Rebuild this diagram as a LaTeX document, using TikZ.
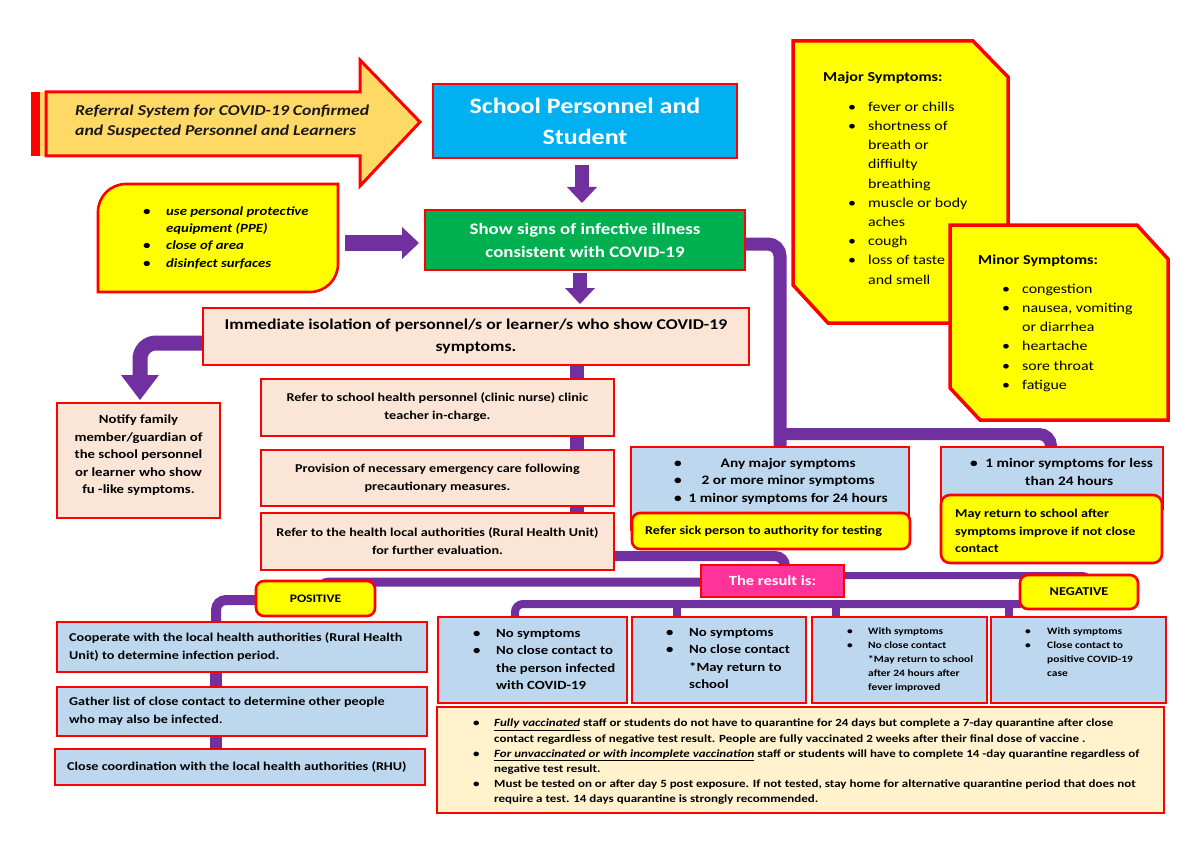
\documentclass[tikz,border=0pt]{standalone}
\usepackage{fontspec}
\setmainfont{Carlito}[FakeStretch=1.18]
\usetikzlibrary{arrows.meta,calc,backgrounds}
\definecolor{pur}{HTML}{7030A0}
\definecolor{peach}{HTML}{FBE5D6}
\definecolor{lblue}{HTML}{BDD7EE}
\definecolor{ylw}{HTML}{FFFF00}
\definecolor{cream}{HTML}{FFF2CC}
\definecolor{orng}{HTML}{FFD966}
\definecolor{cyanb}{HTML}{00B0F0}
\definecolor{grn}{HTML}{00B050}
\definecolor{pinkc}{HTML}{FF3399}
\newlength\bw
\newcommand\bl[1]{\strut\makebox[\bw][l]{\textbullet}#1}
\newcommand\cl[1]{\strut\hspace*{\bw}#1}
\newcommand\bc[2]{\strut\makebox[\bw][l]{\textbullet}\makebox[#1][c]{#2}}
\newcommand\cc[2]{\strut\hspace*{\bw}\makebox[#1][c]{#2}}
\newcommand\fs[2]{\fontsize{#1}{#2}\selectfont}
\tikzset{
  box/.style={draw=red, line width=2.6pt, inner sep=0pt, outer sep=0pt},
  peachbox/.style={box, fill=peach},
  bluebox/.style={box, fill=lblue},
  ylwbox/.style={box, fill=ylw, rounded corners=8pt},
  conn/.style={draw=pur, line cap=butt, rounded corners=10pt},
  fat/.style={draw=pur, line width=14pt, -{Triangle[width=30pt,length=16pt,line width=0pt]}},
  lst/.style={anchor=north west, inner sep=0pt, align=left},
  lft/.style={anchor=west, inner sep=0pt, align=left},
  symb/.style={draw=red, line width=3.5pt, fill=ylw, line join=miter},
}
\begin{document}
\begin{tikzpicture}[x=1pt,y=-1pt]
\useasboundingbox (0,0) rectangle (1200,848);

% Referral arrow
\fill[red] (31,92) rectangle (40,156);
\fill[orng] (40,92) rectangle (46,156);
\draw[red, line width=3pt, fill=orng, line join=miter] (46,92) -- (360,92) -- (360,60) -- (420,122) -- (360,186) -- (360,156) -- (46,156) -- cycle;
\node[lst, font={\fs{15}{20}\bfseries\itshape}, text=black!90] (reft) at (75,101)
  {\strut Referral System for COVID-19 Confirmed\\\strut and Suspected Personnel and Learners};

% top boxes
\node[box, fill=cyanb, minimum width=304pt, minimum height=74pt, text=white, align=center, font=\fs{22}{31}\bfseries] (school) at (585,121) {School Personnel and\\Student};
\node[box, fill=grn, minimum width=320pt, minimum height=60pt, text=white, align=center, font=\fs{16}{23}\bfseries] (green) at (585,240) {Show signs of infective illness\\consistent with COVID-19};

% PPE box
\draw[red, line width=2.6pt, fill=ylw] (98,292) -- (98,212) .. controls (98,196.5) and (110.5,184) .. (126,184) -- (338,184) -- (338,264) .. controls (338,279.5) and (325.5,292) .. (310,292) -- cycle;
\node[lst, font={\fs{12.5}{17.3}\bfseries\itshape\setlength\bw{23pt}}] (ppet) at (143,203)
  {\bl{use personal protective}\\\cl{equipment (PPE)}\\\bl{close of area}\\\bl{disinfect surfaces}};
\coordinate (ppeE) at (345,243);

% symptom boxes
\draw[symb] (793,41) -- (973,41) -- (1008,77) -- (1008,323) -- (828,323) -- (793,285) -- cycle;
\node[anchor=base west, inner sep=0pt, font=\fs{13.7}{17}\bfseries] (majh) at (823,82) {Major Symptoms:};
\node[lst, font={\fs{13.5}{19.2}\setlength\bw{20pt}}] (majl) at (848,97.6)
  {\bl{fever or chills}\\\bl{shortness of}\\\cl{breath or}\\\cl{diffiulty}\\\cl{breathing}\\\bl{muscle or body}\\\cl{aches}\\\bl{cough}\\\bl{loss of taste}\\\cl{and smell}};
\draw[symb] (950,225) -- (1137,225) -- (1168,259) -- (1168,420) -- (980,420) -- (950,388) -- cycle;
\node[anchor=base west, inner sep=0pt, font=\fs{13.7}{17}\bfseries] (minh) at (978,264) {Minor Symptoms:};
\node[lst, font={\fs{13.5}{19.2}\setlength\bw{20pt}}] (minl) at (1002,279.6)
  {\bl{congestion}\\\bl{nausea, vomiting}\\\cl{or diarrhea}\\\bl{heartache}\\\bl{sore throat}\\\bl{fatigue}};

% isolation and follow-ups
\node[peachbox, minimum width=546pt, minimum height=57pt, align=center, font=\fs{15}{22}\bfseries] (iso) at (476,336.5) {Immediate isolation of personnel/s or learner/s who show COVID-19\\symptoms.};
\node[peachbox, minimum width=163pt, minimum height=115pt] (notify) at (138.5,460.5) {};
\node[inner sep=0pt, align=center, font=\fs{12.5}{17.5}\bfseries] (notifyt) at ($(notify.center)+(0,-5)$) {Notify family\\member/guardian of\\the school personnel\\or learner who show\\fu -like symptoms.};
\node[peachbox, minimum width=353pt, minimum height=57pt, align=center, font=\fs{12}{18}\bfseries] (R1) at (437.5,407.5) {Refer to school health personnel (clinic nurse) clinic\\teacher in-charge.};
\node[peachbox, minimum width=353pt, minimum height=56pt, align=center, font=\fs{12}{18}\bfseries] (R2) at (437.5,478) {Provision of necessary emergency care following\\precautionary measures.};
\node[peachbox, minimum width=353pt, minimum height=57pt, align=center, font=\fs{12}{18}\bfseries] (R3) at (437.5,541.5) {Refer to the health local authorities (Rural Health Unit)\\for further evaluation.};

% symptom outcome boxes
\node[bluebox, minimum width=278pt, minimum height=83pt] (S1) at (770,488.5) {};
\node[lst, font={\fs{13}{17.5}\bfseries\setlength\bw{22pt}}] (S1t) at (674,455)
  {\bc{184pt}{Any major symptoms}\\\bc{184pt}{2 or more minor symptoms}\\\bc{184pt}{1 minor symptoms for 24 hours}};
\node[ylwbox, minimum width=278pt, minimum height=36pt] (RS) at (771,531) {};
\node[lft, font=\fs{12}{17}\bfseries] (RSt) at ($(RS.west)+(13,0)$) {Refer sick person to authority for testing};
\node[bluebox, minimum width=222pt, minimum height=62pt] (S2) at (1052,478) {};
\node[lst, font={\fs{13}{18}\bfseries\setlength\bw{21pt}}] (S2t) at (970,454.5)
  {\bc{156pt}{1 minor symptoms for less}\\\cc{156pt}{than 24 hours}};
\node[ylwbox, rounded corners=9pt, minimum width=221pt, minimum height=68pt] (MR) at (1051.5,529) {};
\node[lft, font=\fs{12}{17.5}\bfseries] (MRt) at ($(MR.west)+(14,2)$) {May return to school after\\symptoms improve if not close\\contact};

% result
\node[box, fill=pinkc, minimum width=143pt, minimum height=32pt, text=white, font=\fs{14}{18}\bfseries] (result) at (772.5,581) {The result is:};
\node[ylwbox, minimum width=119pt, minimum height=35pt, font=\fs{11.5}{14}\bfseries] (pos) at (315.5,598.5) {POSITIVE};
\node[ylwbox, minimum width=118pt, minimum height=34pt, font=\fs{12}{14}\bfseries] (neg) at (1079,592) {NEGATIVE};

% positive branch
\node[bluebox, minimum width=370pt, minimum height=50pt] (coop) at (242,647) {};
\node[lft, font=\fs{12}{18}\bfseries] (coopt) at ($(coop.west)+(12,0)$) {Cooperate with the local health authorities (Rural Health\\Unit) to determine infection period.};
\node[bluebox, minimum width=370pt, minimum height=49pt] (gather) at (242,711.5) {};
\node[lft, font=\fs{12}{18}\bfseries] (gathert) at ($(gather.west)+(12,0)$) {Gather list of close contact to determine other people\\who may also be infected.};
\node[bluebox, minimum width=370pt, minimum height=36pt] (close) at (240,767) {};
\node[lft, font=\fs{12}{18}\bfseries] (closet) at ($(close.west)+(12,0)$) {Close coordination with the local health authorities (RHU)};

% negative branch
\node[bluebox, minimum width=189pt, minimum height=86pt] (N1) at (532.5,660) {};
\node[lst, font={\fs{12.5}{17.4}\bfseries\setlength\bw{23pt}}] (N1t) at (473,625)
  {\bl{No symptoms}\\\bl{No close contact to}\\\cl{the person infected}\\\cl{with COVID-19}};
\node[bluebox, minimum width=174pt, minimum height=86pt] (N2) at (719,660) {};
\node[lst, font={\fs{12.5}{17.4}\bfseries\setlength\bw{23pt}}] (N2t) at (666,624)
  {\bl{No symptoms}\\\bl{No close contact}\\\cl{*May return to}\\\cl{school}};
\node[bluebox, minimum width=175pt, minimum height=86pt] (N3) at (899.5,660) {};
\node[lst, font={\fs{9.7}{14}\bfseries\setlength\bw{21pt}}] (N3t) at (847,624.7)
  {\bl{With symptoms}\\\bl{No close contact}\\\cl{*May return to school}\\\cl{after 24 hours after}\\\cl{fever improved}};
\node[bluebox, minimum width=175pt, minimum height=86pt] (N4) at (1078.5,660) {};
\node[lst, font={\fs{9.7}{14}\bfseries\setlength\bw{22pt}}] (N4t) at (1025,624.7)
  {\bl{With symptoms}\\\bl{Close contact to}\\\cl{positive COVID-19}\\\cl{case}};

% note
\node[box, fill=cream, minimum width=727pt, minimum height=106pt] (note) at (800.5,760) {};
\node[lst, font={\fs{11}{15.2}\bfseries\setlength\bw{21pt}}] (notet) at (473,716)
  {\bl{\underline{\textit{Fully vaccinated}} staff or students do not have to quarantine for 24 days but complete a 7-day quarantine after close}\\
   \cl{contact regardless of negative test result. People are fully vaccinated 2 weeks after their final dose of vaccine .}\\
   \bl{\underline{\textit{For unvaccinated or with incomplete vaccination}} staff or students will have to complete 14 -day quarantine regardless of}\\
   \cl{negative test result.}\\
   \bl{Must be tested on or after day 5 post exposure. If not tested, stay home for alternative quarantine period that does not}\\
   \cl{require a test. 14 days quarantine is strongly recommended.}};

% fat arrows
\draw[fat] ($(school.south)+(-3,7)$) -- ($(green.north)+(-3,-7)$);
\draw[fat] ($(green.south)+(-5,3)$) -- ($(iso.north)+(104,-4)$);
\draw[fat, line width=16pt, -{Triangle[width=32pt,length=17pt,line width=0pt]}] (ppeE) -- ($(green.west)+(-6,3)$);

\begin{pgfonlayer}{background}
\fill[white] (0,0) rectangle (1200,848);
\draw[conn, line width=13pt, rounded corners=12pt] ($(green.east)+(-2,4)$) -| ($(S1.north)+(10,2)$);
\draw[conn, line width=12pt, rounded corners=12pt] ($(S1.north)+(10,-13)$) -| ($(S2.north)+(-1,2)$);
\draw[conn, line width=14pt] ($(iso.south)+(101,-2)$) -- ($(R3.south)+(139.5,-14)$);
\draw[conn, line width=10pt, rounded corners=10pt] ($(R3.south)+(134.5,-14)$) -| ($(result.north)+(12.5,2)$);
\draw[conn, line width=9pt, rounded corners=9pt] ($(result.west)+(1,1)$) -| ($(pos.center)+(4.5,0)$);
\draw[conn, line width=10pt, rounded corners=10pt] ($(pos.west)+(1,1.5)$) -| ($(coop.north)+(-26,2)$);
\draw[conn, line width=12pt] ($(coop.south)+(-26,-2)$) -- ($(close.north)+(-24,2)$);
\draw[conn, line width=7pt, rounded corners=8pt] ($(result.east)+(-1,-5.5)$) -| ($(neg.center)+(11,0)$);
\draw[conn, line width=8pt, rounded corners=8pt] ($(neg.west)+(1,12)$) -| ($(N1.north)+(-17.5,2)$);
\draw[conn, line width=8pt] ($(N2.north)+(-42,-13)$) -- ($(N2.north)+(-42,2)$);
\draw[conn, line width=8pt] ($(N3.north)+(-63.5,-13)$) -- ($(N3.north)+(-63.5,2)$);
\draw[conn, line width=8pt] ($(N4.north)+(-69.5,-13)$) -- ($(N4.north)+(-69.5,2)$);
\draw[pur, line width=15pt, rounded corners=16pt, -{Triangle[width=38pt,length=25pt,line width=0pt]}] ($(iso.west)+(2,6.5)$) -| ($(notify.north)+(1.5,-3)$);
\end{pgfonlayer}
\end{tikzpicture}
\end{document}
